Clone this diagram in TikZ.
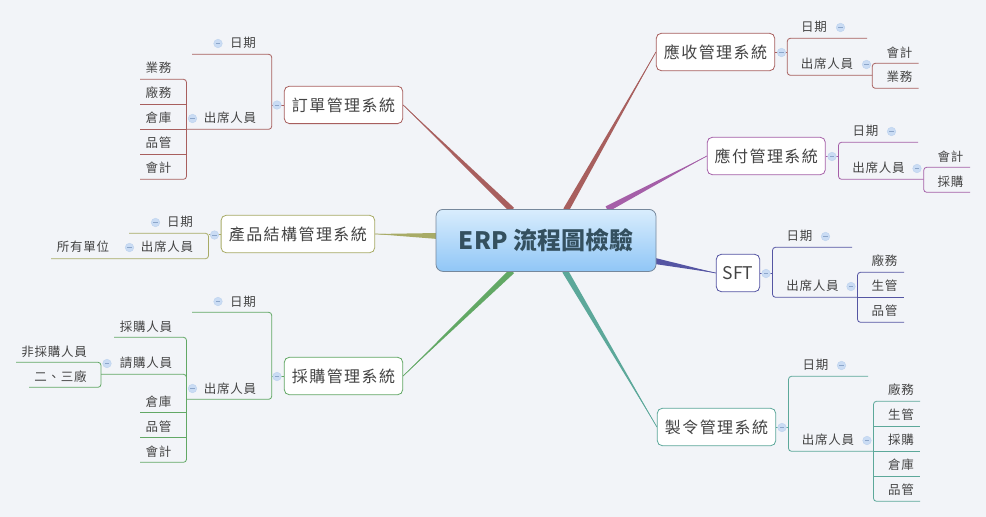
\documentclass[tikz,border=0pt]{standalone}
\usepackage{fontspec}
\setmainfont{Noto Sans CJK TC}
\usetikzlibrary{calc}
\pgfdeclarelayer{back}
\pgfsetlayers{back,main}
\definecolor{bgc}{HTML}{F2F4F8}
\definecolor{cA}{HTML}{A85F5E}
\definecolor{cB}{HTML}{A55FA8}
\definecolor{cC}{HTML}{A8AB66}
\definecolor{cD}{HTML}{5555A3}
\definecolor{cE}{HTML}{62A865}
\definecolor{cF}{HTML}{5CA89A}
\definecolor{txt}{HTML}{444444}
\definecolor{rootT}{HTML}{D9EDFD}
\definecolor{rootB}{HTML}{90C6F6}
\definecolor{rootE}{HTML}{76889C}
\definecolor{rootX}{HTML}{34505F}
\definecolor{icoF}{HTML}{CADCF4}
\definecolor{icoD}{HTML}{BFD4EF}
\definecolor{icoM}{HTML}{8CA6CA}
\tikzset{
  rootbox/.style={draw=rootE,line width=.8pt,rounded corners=7pt,top color=rootT,bottom color=rootB,minimum width=220pt,minimum height=62pt,inner sep=0pt,text=rootX,font=\fontsize{24}{28}\selectfont\bfseries},
  topicbox/.style={draw,fill=white,line width=.8pt,rounded corners=5pt,minimum height=37.4pt,inner sep=0pt,text=txt,font=\fontsize{16}{20}\addfontfeature{LetterSpace=9}\selectfont},
  lab/.style={inner sep=0pt,text=txt,font=\fontsize{12.5}{14}\addfontfeature{LetterSpace=6}\selectfont},
  br/.style={line width=.8pt,rounded corners=3pt},
  ico/.style={circle,draw=icoD,fill=icoF,line width=.5pt,minimum size=8.5pt,inner sep=0pt},
}
% label with name
\newcommand{\lbl}[4]{\node[lab] (#1) at (#2,#3) {#4};}
% collapse icon
\newcommand{\icon}[3]{\node[ico] (#1) at (#2,#3) {};\draw[icoM,line width=.6pt] ([xshift=-2.2pt]#1.center) -- ([xshift=2.2pt]#1.center);}
% underline below a label: name, colour, x1, x2, y
\newcommand{\under}[5]{\coordinate (#1-a) at (#3,#5);\coordinate (#1-b) at (#4,#5);\draw[#2,line width=.8pt] (#1-a) -- (#1-b);}
% bracket: name, colour, x outer ends top, x outer ends bottom, spine x, ytop, ybot
\newcommand{\brk}[7]{\coordinate (#1-t) at (#3,#6);\coordinate (#1-m) at (#5,#6);\coordinate (#1-n) at (#5,#7);\coordinate (#1-e) at (#4,#7);\draw[#2,br] (#1-t) -- (#1-m) -- (#1-n) -- (#1-e);}
% trunk: colour, start coordinate, end
\newcommand{\trunk}[3]{\begin{pgfonlayer}{back}\fill[#1] ($(#2)!3pt!90:(#3)$) -- ($(#2)!3pt!-90:(#3)$) -- (#3) -- cycle;\draw[#1,line width=.7pt] (#2) -- (#3);\end{pgfonlayer}}
\begin{document}
\begin{tikzpicture}[x=1pt,y=-1pt]
\useasboundingbox (0,0) rectangle (986,517);
\begin{pgfonlayer}{back}
\fill[bgc] (0,0) rectangle (986,517);
\end{pgfonlayer}
% root
\node[rootbox] (root) at (546,240.4) {ERP 流程圖檢驗};
\coordinate (s1) at (512,210);
\coordinate (s2) at (566,210);
\coordinate (s3) at (607,209);
\coordinate (s4) at (438,236);
\coordinate (s5) at (655,261);
\coordinate (s6) at (512,271);
\coordinate (s7) at (565,271);
% topics
\node[topicbox,draw=cA,minimum width=118.4pt] (dd) at (343.5,104.9) {訂單管理系統};
\node[topicbox,draw=cC,minimum width=153.6pt] (cp) at (297.9,234) {產品結構管理系統};
\node[topicbox,draw=cE,minimum width=118.4pt] (cg) at (343.5,376) {採購管理系統};
\node[topicbox,draw=cA,minimum width=118.4pt] (ys) at (715.5,52) {應收管理系統};
\node[topicbox,draw=cB,minimum width=118pt] (yf) at (766.3,156) {應付管理系統};
\node[topicbox,draw=cD,minimum width=43.4pt,font=\fontsize{17.5}{20}\selectfont] (sft) at (738,273) {SFT};
\node[topicbox,draw=cF,minimum width=118.4pt] (zl) at (716.5,427) {製令管理系統};
% trunks
\trunk{cA}{s1}{dd.east}
\trunk{cA}{s2}{ys.west}
\trunk{cB}{s3}{yf.west}
\trunk{cC}{s4}{cp.east}
\trunk{cD}{s5}{sft.west}
\trunk{cE}{s6}{cg.east}
\trunk{cF}{s7}{zl.west}

% ---- 訂單
\draw[cA,line width=.8pt] (dd.west) -- (271.7,104.9);
\brk{ddb}{cA}{192}{186.5}{271.7}{54.3}{129.3}
\brk{dds}{cA}{140}{140}{186.5}{79.3}{179.3}
\under{dd2}{cA}{140}{186.5}{104.3}
\under{dd3}{cA}{140}{186.5}{129.3}
\under{dd4}{cA}{140}{186.5}{154.3}
\icon{ddi}{277}{105}
\icon{ddi1}{218}{43.5}
\icon{ddi2}{192.5}{118.5}
\lbl{dda}{243}{43}{日期}
\lbl{ddc}{230}{118}{出席人員}
\lbl{dde}{158.5}{68}{業務}
\lbl{ddf}{158.5}{93}{廠務}
\lbl{ddg}{158.5}{118}{倉庫}
\lbl{ddh}{158.5}{143}{品管}
\lbl{ddj}{158.5}{168}{會計}

% ---- 產品
\draw[cC,line width=.8pt] (cp.west) -- (208.5,234);
\brk{cpb}{cC}{129}{51}{208.5}{233.3}{258.7}
\icon{cpi}{214.5}{235}
\icon{cpi1}{155.5}{222.5}
\icon{cpi2}{129.5}{247.5}
\lbl{cpa}{180}{222}{日期}
\lbl{cpc}{167}{247}{出席人員}
\lbl{cpd}{83}{247}{所有單位}

% ---- 採購
\draw[cE,line width=.8pt] (cg.west) -- (271.7,376);
\brk{cgb}{cE}{192}{186.5}{271.7}{312.3}{399.3}
\brk{cgs}{cE}{114}{140}{186.5}{337.3}{462.3}
\under{cg2}{cE}{140}{186.5}{412.3}
\under{cg3}{cE}{140}{186.5}{437.3}
\coordinate (cgq-a) at (101,374.3);\coordinate (cgq-m) at (186.5,374.3);\coordinate (cgq-n) at (186.5,385);
\draw[cE,br] (cgq-a) -- (cgq-m) -- (cgq-n);
\brk{cgt}{cE}{16}{29}{101}{362.3}{387.3}
\icon{cgi}{277}{376.5}
\icon{cgi1}{218}{301.5}
\icon{cgi2}{192.5}{388.5}
\icon{cgi3}{107}{363.5}
\lbl{cga}{243}{301.5}{日期}
\lbl{cgc}{230}{388.5}{出席人員}
\lbl{cgd}{146}{327}{採購人員}
\lbl{cge}{146}{363}{請購人員}
\lbl{cgf}{158.5}{402}{倉庫}
\lbl{cgg}{158.5}{427}{品管}
\lbl{cgh}{158.5}{452}{會計}
\lbl{cgj}{54}{351.5}{非採購人員}
\lbl{cgk}{60.5}{377}{二、三廠}

% ---- 應收
\draw[cA,line width=.8pt] (ys.east) -- (787.3,52);
\coordinate (ysb-t) at (867,38.3);\coordinate (ysb-m) at (787.3,38.3);\coordinate (ysb-n) at (787.3,75.3);\coordinate (ysb-e) at (872.3,75.3);
\draw[cA,br] (ysb-t) -- (ysb-m) -- (ysb-n) -- (ysb-e);
\brk{yss}{cA}{918.7}{918.7}{872.3}{63.3}{88.3}
\icon{ysi}{781.5}{52.5}
\icon{ysi1}{840.5}{27.5}
\icon{ysi2}{866.5}{64.5}
\lbl{ysa}{814}{27}{日期}
\lbl{ysc}{827}{64}{出席人員}
\lbl{ysd}{899.5}{52.5}{會計}
\lbl{yse}{899.5}{77}{業務}

% ---- 應付
\draw[cB,line width=.8pt] (yf.east) -- (838.5,156);
\brk{yfb}{cB}{918}{923.7}{838.5}{142.3}{179.3}
\brk{yfs}{cB}{970}{970}{923.7}{167.3}{192.3}
\icon{yfi}{832}{156.5}
\icon{yfi1}{891.5}{131.5}
\icon{yfi2}{917}{168.5}
\lbl{yfa}{865.5}{131}{日期}
\lbl{yfc}{878.5}{168}{出席人員}
\lbl{yfd}{950.5}{156.5}{會計}
\lbl{yfe}{950.5}{181.5}{採購}

% ---- SFT
\draw[cD,line width=.8pt] (sft.east) -- (772.5,273);
\brk{sfb}{cD}{852}{857.5}{772.5}{247.3}{297.3}
\brk{sfs}{cD}{904}{904}{857.5}{272.3}{322.3}
\under{sf2}{cD}{857.5}{904}{297.3}
\icon{sfi}{766}{273.5}
\icon{sfi1}{825.5}{236.5}
\icon{sfi2}{851}{286.5}
\lbl{sfa}{799.5}{236}{日期}
\lbl{sfc}{812.5}{286}{出席人員}
\lbl{sfd}{884.5}{261}{廠務}
\lbl{sfe}{884.5}{286}{生管}
\lbl{sff}{884.5}{311}{品管}

% ---- 製令
\draw[cF,line width=.8pt] (zl.east) -- (788.5,427);
\brk{zlb}{cF}{868}{873.5}{788.5}{376.3}{451.3}
\brk{zls}{cF}{920}{920}{873.5}{401.3}{501.3}
\under{zl2}{cF}{873.5}{920}{426.3}
\under{zl3}{cF}{873.5}{920}{451.3}
\under{zl4}{cF}{873.5}{920}{476.3}
\icon{zli}{782}{427.5}
\icon{zli1}{841.5}{365.5}
\icon{zli2}{867}{440.5}
\lbl{zla}{815.5}{365}{日期}
\lbl{zlc}{828}{440}{出席人員}
\lbl{zld}{901}{390}{廠務}
\lbl{zle}{901}{415}{生管}
\lbl{zlf}{901}{440}{採購}
\lbl{zlg}{901}{465}{倉庫}
\lbl{zlh}{901}{490}{品管}
\end{tikzpicture}
\end{document}
